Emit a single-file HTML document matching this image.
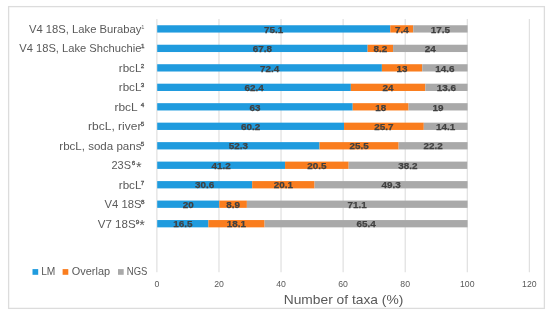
<!DOCTYPE html>
<html><head><meta charset="utf-8"><title>Number of taxa (%)</title>
<style>
html,body{margin:0;padding:0;background:#fff;}
body{width:550px;height:316px;overflow:hidden;}
svg{display:block;font-family:"Liberation Sans",sans-serif;}
.cat{font-size:11.6px;fill:#595959;text-anchor:end;}
.sup{font-size:5.6px;fill:#595959;text-anchor:end;stroke:#595959;stroke-width:0.3px;}
.supt{font-size:5.6px;fill:#6a6a6a;text-anchor:end;}
.ast{font-size:14.5px;fill:#595959;text-anchor:end;}
.dl{font-size:9.9px;font-weight:bold;fill:#404040;text-anchor:middle;stroke:#404040;stroke-width:0.25px;}
.tick{font-size:8.7px;fill:#595959;text-anchor:middle;}
.leg{font-size:10.6px;fill:#595959;}
.title{font-size:13.6px;fill:#595959;text-anchor:middle;}
</style></head><body>
<svg width="550" height="316" viewBox="0 0 550 316">
<rect x="0" y="0" width="550" height="316" fill="#ffffff"/>
<rect x="8.6" y="6.6" width="535.8" height="301.8" fill="#ffffff" stroke="#dcdcdc" stroke-width="1.3"/>

<line x1="156.90" y1="19.00" x2="156.90" y2="272.24" stroke="#d9d9d9" stroke-width="1"/>
<line x1="218.97" y1="19.00" x2="218.97" y2="272.24" stroke="#d9d9d9" stroke-width="1"/>
<line x1="281.04" y1="19.00" x2="281.04" y2="272.24" stroke="#d9d9d9" stroke-width="1"/>
<line x1="343.11" y1="19.00" x2="343.11" y2="272.24" stroke="#d9d9d9" stroke-width="1"/>
<line x1="405.18" y1="19.00" x2="405.18" y2="272.24" stroke="#d9d9d9" stroke-width="1"/>
<line x1="467.25" y1="19.00" x2="467.25" y2="272.24" stroke="#d9d9d9" stroke-width="1"/>
<line x1="529.32" y1="19.00" x2="529.32" y2="272.24" stroke="#d9d9d9" stroke-width="1"/>
<rect x="157.20" y="25.25" width="233.07" height="7.3" fill="#1f9bde"/>
<rect x="390.27" y="25.25" width="22.97" height="7.3" fill="#fa7d1e"/>
<rect x="413.24" y="25.25" width="54.31" height="7.3" fill="#a9a9a9"/>
<text class="dl" x="273.74" y="32.60">75.1</text>
<text class="dl" x="401.76" y="32.60">7.4</text>
<text class="dl" x="440.39" y="32.60">17.5</text>
<text class="cat" x="141.4" y="32.80" textLength="112.4" lengthAdjust="spacingAndGlyphs">V4 18S, Lake Burabay</text>
<text class="supt" x="144.4" y="28.60">1</text>
<rect x="157.20" y="44.73" width="210.42" height="7.3" fill="#1f9bde"/>
<rect x="367.62" y="44.73" width="25.45" height="7.3" fill="#fa7d1e"/>
<rect x="393.07" y="44.73" width="74.48" height="7.3" fill="#a9a9a9"/>
<text class="dl" x="262.41" y="52.08">67.8</text>
<text class="dl" x="380.34" y="52.08">8.2</text>
<text class="dl" x="430.31" y="52.08">24</text>
<text class="cat" x="141.4" y="52.28" textLength="122.1" lengthAdjust="spacingAndGlyphs">V4 18S, Lake Shchuchie</text>
<text class="sup" x="144.4" y="48.28" textLength="3.5" lengthAdjust="spacingAndGlyphs">1</text>
<rect x="157.20" y="64.21" width="224.69" height="7.3" fill="#1f9bde"/>
<rect x="381.89" y="64.21" width="40.35" height="7.3" fill="#fa7d1e"/>
<rect x="422.24" y="64.21" width="45.31" height="7.3" fill="#a9a9a9"/>
<text class="dl" x="269.55" y="71.56">72.4</text>
<text class="dl" x="402.07" y="71.56">13</text>
<text class="dl" x="444.89" y="71.56">14.6</text>
<text class="cat" x="141.4" y="71.76" textLength="22.6" lengthAdjust="spacingAndGlyphs">rbcL</text>
<text class="sup" x="144.3" y="67.76" textLength="3.5" lengthAdjust="spacingAndGlyphs">2</text>
<rect x="157.20" y="83.69" width="193.66" height="7.3" fill="#1f9bde"/>
<rect x="350.86" y="83.69" width="74.48" height="7.3" fill="#fa7d1e"/>
<rect x="425.34" y="83.69" width="42.21" height="7.3" fill="#a9a9a9"/>
<text class="dl" x="254.03" y="91.04">62.4</text>
<text class="dl" x="388.10" y="91.04">24</text>
<text class="dl" x="446.45" y="91.04">13.6</text>
<text class="cat" x="141.4" y="91.24" textLength="22.6" lengthAdjust="spacingAndGlyphs">rbcL</text>
<text class="sup" x="144.3" y="87.24" textLength="3.5" lengthAdjust="spacingAndGlyphs">3</text>
<rect x="157.20" y="103.17" width="195.52" height="7.3" fill="#1f9bde"/>
<rect x="352.72" y="103.17" width="55.86" height="7.3" fill="#fa7d1e"/>
<rect x="408.58" y="103.17" width="58.97" height="7.3" fill="#a9a9a9"/>
<text class="dl" x="254.96" y="110.52">63</text>
<text class="dl" x="380.65" y="110.52">18</text>
<text class="dl" x="438.07" y="110.52">19</text>
<text class="cat" x="137.7" y="110.72" textLength="23.2" lengthAdjust="spacingAndGlyphs">rbcL</text>
<text class="sup" x="144.2" y="106.72" textLength="3.5" lengthAdjust="spacingAndGlyphs">4</text>
<rect x="157.20" y="122.65" width="186.83" height="7.3" fill="#1f9bde"/>
<rect x="344.03" y="122.65" width="79.76" height="7.3" fill="#fa7d1e"/>
<rect x="423.79" y="122.65" width="43.76" height="7.3" fill="#a9a9a9"/>
<text class="dl" x="250.62" y="130.00">60.2</text>
<text class="dl" x="383.91" y="130.00">25.7</text>
<text class="dl" x="445.67" y="130.00">14.1</text>
<text class="cat" x="141.4" y="130.20" textLength="53.3" lengthAdjust="spacingAndGlyphs">rbcL, river</text>
<text class="sup" x="144.3" y="126.20" textLength="3.5" lengthAdjust="spacingAndGlyphs">5</text>
<rect x="157.20" y="142.13" width="162.31" height="7.3" fill="#1f9bde"/>
<rect x="319.51" y="142.13" width="79.14" height="7.3" fill="#fa7d1e"/>
<rect x="398.65" y="142.13" width="68.90" height="7.3" fill="#a9a9a9"/>
<text class="dl" x="238.36" y="149.48">52.3</text>
<text class="dl" x="359.08" y="149.48">25.5</text>
<text class="dl" x="433.10" y="149.48">22.2</text>
<text class="cat" x="141.4" y="149.68" textLength="82.1" lengthAdjust="spacingAndGlyphs">rbcL, soda pans</text>
<text class="sup" x="144.3" y="145.68" textLength="3.5" lengthAdjust="spacingAndGlyphs">5</text>
<rect x="157.20" y="161.61" width="127.86" height="7.3" fill="#1f9bde"/>
<rect x="285.06" y="161.61" width="63.62" height="7.3" fill="#fa7d1e"/>
<rect x="348.69" y="161.61" width="118.55" height="7.3" fill="#a9a9a9"/>
<text class="dl" x="221.13" y="168.96">41.2</text>
<text class="dl" x="316.88" y="168.96">20.5</text>
<text class="dl" x="407.96" y="168.96">38.2</text>
<text class="cat" x="131.0" y="169.16" textLength="19.6" lengthAdjust="spacingAndGlyphs">23S</text>
<text class="sup" x="135.3" y="165.16" textLength="3.5" lengthAdjust="spacingAndGlyphs">6</text>
<text class="ast" x="141.55" y="171.96">*</text>
<rect x="157.20" y="181.09" width="94.97" height="7.3" fill="#1f9bde"/>
<rect x="252.17" y="181.09" width="62.38" height="7.3" fill="#fa7d1e"/>
<rect x="314.55" y="181.09" width="153.00" height="7.3" fill="#a9a9a9"/>
<text class="dl" x="204.68" y="188.44">30.6</text>
<text class="dl" x="283.36" y="188.44">20.1</text>
<text class="dl" x="391.05" y="188.44">49.3</text>
<text class="cat" x="141.4" y="188.64" textLength="22.6" lengthAdjust="spacingAndGlyphs">rbcL</text>
<text class="sup" x="144.3" y="184.64" textLength="3.5" lengthAdjust="spacingAndGlyphs">7</text>
<rect x="157.20" y="200.57" width="62.07" height="7.3" fill="#1f9bde"/>
<rect x="219.27" y="200.57" width="27.62" height="7.3" fill="#fa7d1e"/>
<rect x="246.89" y="200.57" width="220.66" height="7.3" fill="#a9a9a9"/>
<text class="dl" x="188.23" y="207.92">20</text>
<text class="dl" x="233.08" y="207.92">8.9</text>
<text class="dl" x="357.22" y="207.92">71.1</text>
<text class="cat" x="141.4" y="208.12" textLength="36.9" lengthAdjust="spacingAndGlyphs">V4 18S</text>
<text class="sup" x="144.4" y="204.12" textLength="3.5" lengthAdjust="spacingAndGlyphs">8</text>
<rect x="157.20" y="220.05" width="51.21" height="7.3" fill="#1f9bde"/>
<rect x="208.41" y="220.05" width="56.17" height="7.3" fill="#fa7d1e"/>
<rect x="264.58" y="220.05" width="202.97" height="7.3" fill="#a9a9a9"/>
<text class="dl" x="182.80" y="227.40">16.5</text>
<text class="dl" x="236.49" y="227.40">18.1</text>
<text class="dl" x="366.07" y="227.40">65.4</text>
<text class="cat" x="135.6" y="227.60" textLength="37.9" lengthAdjust="spacingAndGlyphs">V7 18S</text>
<text class="sup" x="139.3" y="223.60" textLength="3.5" lengthAdjust="spacingAndGlyphs">9</text>
<text class="ast" x="145.0" y="230.40">*</text>
<text class="tick" x="156.90" y="287.4">0</text>
<text class="tick" x="218.97" y="287.4">20</text>
<text class="tick" x="281.04" y="287.4">40</text>
<text class="tick" x="343.11" y="287.4">60</text>
<text class="tick" x="405.18" y="287.4">80</text>
<text class="tick" x="467.25" y="287.4">100</text>
<text class="tick" x="529.32" y="287.4">120</text>
<text class="title" x="343.5" y="303.8" textLength="119.6" lengthAdjust="spacingAndGlyphs">Number of taxa (%)</text>
<rect x="32.5" y="269.1" width="5.7" height="5.7" fill="#1f9bde"/><text class="leg" x="41.2" y="275.2" textLength="14.2" lengthAdjust="spacingAndGlyphs">LM</text>
<rect x="62.6" y="269.1" width="5.7" height="5.7" fill="#fa7d1e"/><text class="leg" x="71.8" y="275.2" textLength="38.3" lengthAdjust="spacingAndGlyphs">Overlap</text>
<rect x="118.0" y="269.1" width="5.7" height="5.7" fill="#a9a9a9"/><text class="leg" x="126.8" y="275.2" textLength="20.6" lengthAdjust="spacingAndGlyphs">NGS</text>
</svg></body></html>
